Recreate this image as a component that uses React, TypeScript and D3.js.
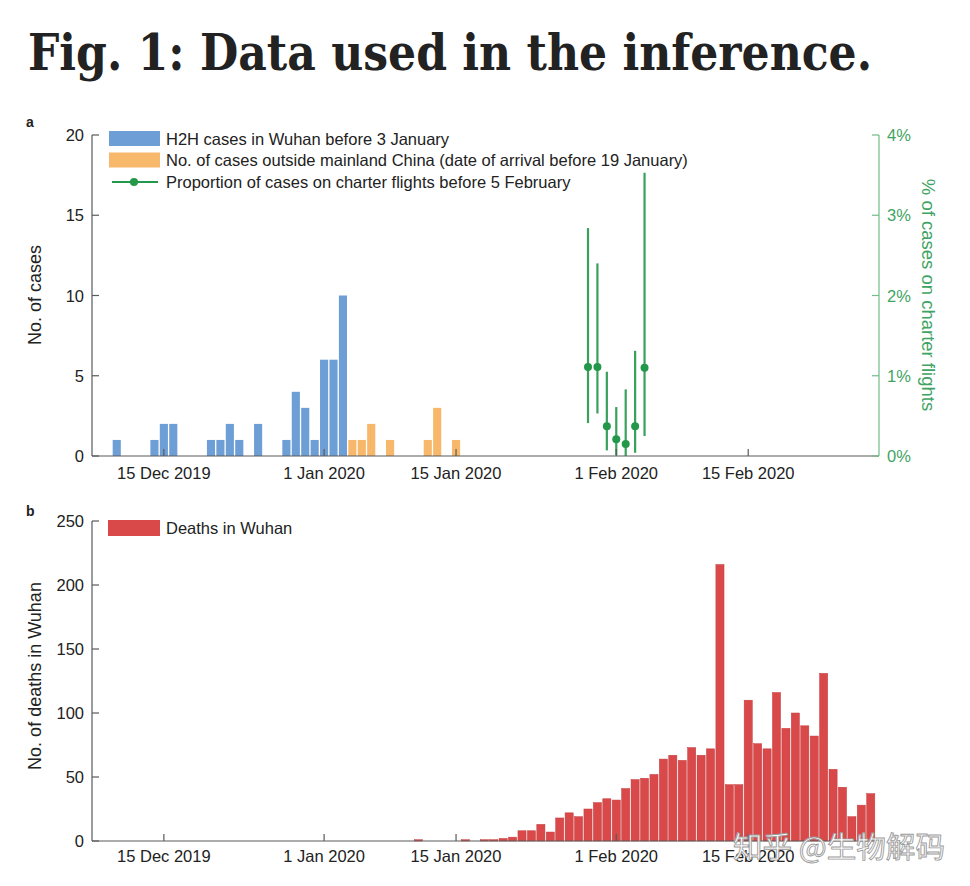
import React from "react";
import * as d3 from "d3";

const h2hDays = ["2019-12-10","2019-12-14","2019-12-15","2019-12-16","2019-12-20","2019-12-21","2019-12-22","2019-12-23","2019-12-25","2019-12-28","2019-12-29","2019-12-30","2019-12-31","2020-01-01","2020-01-02","2020-01-03"];
const h2hCounts = [1,1,2,2,1,1,2,1,2,1,4,3,1,6,6,10];

const outsideDays = ["2020-01-04","2020-01-05","2020-01-06","2020-01-08","2020-01-12","2020-01-13","2020-01-15"];
const outsideCounts = [1,1,2,1,1,3,1];

const charterDays = ["2020-01-29","2020-01-30","2020-01-31","2020-02-01","2020-02-02","2020-02-03","2020-02-04"];
const charterPct = [1.11,1.11,0.37,0.21,0.15,0.37,1.10];
const charterLow = [0.41,0.53,0.07,0.01,0.0,0.04,0.25];
const charterHigh = [2.84,2.40,1.05,0.61,0.83,1.31,3.53];

const deathStart = "2020-01-11";
const deathCounts = [1,0,0,0,0,1,0,1,1,2,3,8,8,13,7,18,22,19,25,30,33,32,41,48,49,52,64,67,63,73,67,72,216,44,44,110,76,72,116,88,100,90,82,131,56,42,19,28,37];

const xTickDates = ["2019-12-15","2020-01-01","2020-01-15","2020-02-01","2020-02-15"];
const xTickLabels = ["15 Dec 2019","1 Jan 2020","15 Jan 2020","1 Feb 2020","15 Feb 2020"];
const yTicksA = [0,5,10,15,20];
const yTicksPct = [0,1,2,3,4];
const yTicksB = [0,50,100,150,200,250];

const parse = (s: string) => {
  const [y, m, d] = s.split("-").map(Number);
  return new Date(y, m - 1, d);
};

const FONT = "'Liberation Sans', Arial, Helvetica, sans-serif";
const BLUE = "#6d9fd6";
const ORANGE = "#f8b86b";
const GREEN = "#23974a";
const GREEN_AX = "#6fbd88";
const GREEN_TXT = "#3fa463";
const RED = "#d9494a";
const AXIS = "#5a5a5a";
const TXT = "#222";

export default function App() {
  const x = d3
    .scaleTime()
    .domain([new Date(2019, 11, 7, 9), new Date(2020, 1, 28, 21)])
    .range([92, 879]);
  const dayW = x(new Date(2020, 0, 2)) - x(new Date(2020, 0, 1));
  const barW = dayW - 1.3;

  const yA = d3.scaleLinear().domain([0, 20]).range([456, 135]);
  const yP = d3.scaleLinear().domain([0, 4]).range([456, 135]);
  const yB = d3.scaleLinear().domain([0, 250]).range([841, 521]);

  const deathDates = deathCounts.map((_, i) => d3.timeDay.offset(parse(deathStart), i));
  const tickLen = 7;

  return (
    <svg
      width={970}
      height={886}
      style={{ position: "absolute", left: 0, top: 0, background: "#fff" }}
      fontFamily={FONT}
    >
      <rect x={0} y={0} width={970} height={886} fill="#fff" />
      <text
        x={28}
        y={70}
        fontFamily="'DejaVu Serif', serif"
        fontWeight="bold"
        fontSize={51}
        fill="#222"
        textLength={844}
        lengthAdjust="spacingAndGlyphs"
      >
        Fig. 1: Data used in the inference.
      </text>

      {/* Panel a */}
      <text x={26} y={127} fontWeight="bold" fontSize={14} fill={TXT}>a</text>
      {h2hDays.map((d, i) => (
        <rect key={"h" + i} x={x(parse(d)) - barW / 2} y={yA(h2hCounts[i])} width={barW} height={yA(0) - yA(h2hCounts[i])} fill={BLUE} />
      ))}
      {outsideDays.map((d, i) => (
        <rect key={"o" + i} x={x(parse(d)) - barW / 2} y={yA(outsideCounts[i])} width={barW} height={yA(0) - yA(outsideCounts[i])} fill={ORANGE} />
      ))}
      {charterDays.map((d, i) => (
        <g key={"c" + i}>
          <line x1={x(parse(d))} x2={x(parse(d))} y1={yP(charterLow[i])} y2={yP(charterHigh[i])} stroke={GREEN} strokeWidth={2.2} opacity={0.9} />
          <circle cx={x(parse(d))} cy={yP(charterPct[i])} r={4} fill={GREEN} />
        </g>
      ))}
      {/* left axis a */}
      <line x1={92} x2={92} y1={135} y2={456} stroke={AXIS} strokeWidth={1.2} />
      {yTicksA.map((t) => (
        <g key={"ya" + t}>
          <line x1={92} x2={92 + tickLen} y1={yA(t)} y2={yA(t)} stroke={AXIS} strokeWidth={1.2} />
          <text x={84} y={yA(t) + 6} textAnchor="end" fontSize={16.5} fill={TXT}>{t}</text>
        </g>
      ))}
      {/* bottom axis a */}
      <line x1={92} x2={879} y1={456} y2={456} stroke={AXIS} strokeWidth={1.2} />
      {xTickDates.map((d, i) => (
        <g key={"xa" + i}>
          <line x1={x(parse(d))} x2={x(parse(d))} y1={456} y2={456 - tickLen} stroke={AXIS} strokeWidth={1.2} />
          <text x={x(parse(d))} y={479} textAnchor="middle" fontSize={16.5} fill={TXT}>{xTickLabels[i]}</text>
        </g>
      ))}
      {/* right axis a */}
      <line x1={879} x2={879} y1={135} y2={456} stroke={GREEN_AX} strokeWidth={1.2} />
      {yTicksPct.map((t) => (
        <g key={"yp" + t}>
          <line x1={879} x2={879 - tickLen} y1={yP(t)} y2={yP(t)} stroke={GREEN_AX} strokeWidth={1.2} />
          <text x={887} y={yP(t) + 6} textAnchor="start" fontSize={16.5} fill={GREEN_TXT}>{t}%</text>
        </g>
      ))}
      <text transform="translate(922,295) rotate(90)" textAnchor="middle" fontSize={18.5} fill={GREEN_TXT}>
        % of cases on charter flights
      </text>
      <text transform="translate(41,295) rotate(-90)" textAnchor="middle" fontSize={18} fill={TXT}>
        No. of cases
      </text>
      {/* legend a */}
      <rect x={109} y={131} width={51} height={15} fill={BLUE} />
      <text x={166} y={144.5} fontSize={16.5} fill={TXT}>H2H cases in Wuhan before 3 January</text>
      <rect x={109} y={152.5} width={51} height={15} fill={ORANGE} />
      <text x={166} y={166} fontSize={16.5} fill={TXT}>No. of cases outside mainland China (date of arrival before 19 January)</text>
      <line x1={112} x2={158} y1={182} y2={182} stroke={GREEN} strokeWidth={2} />
      <circle cx={134} cy={182} r={4} fill={GREEN} />
      <text x={166} y={187.5} fontSize={16.5} fill={TXT}>Proportion of cases on charter flights before 5 February</text>

      {/* Panel b */}
      <text x={26} y={516} fontWeight="bold" fontSize={14} fill={TXT}>b</text>
      {deathDates.map((d, i) =>
        deathCounts[i] > 0 ? (
          <rect key={"d" + i} x={x(d) - barW / 2} y={yB(deathCounts[i])} width={barW} height={yB(0) - yB(deathCounts[i])} fill={RED} stroke="#c43c3c" strokeWidth={0.5} />
        ) : null
      )}
      <line x1={92} x2={92} y1={521} y2={841} stroke={AXIS} strokeWidth={1.2} />
      {yTicksB.map((t) => (
        <g key={"yb" + t}>
          <line x1={92} x2={92 + tickLen} y1={yB(t)} y2={yB(t)} stroke={AXIS} strokeWidth={1.2} />
          <text x={84} y={yB(t) + 6} textAnchor="end" fontSize={16.5} fill={TXT}>{t}</text>
        </g>
      ))}
      <line x1={92} x2={876} y1={841} y2={841} stroke={AXIS} strokeWidth={1.2} />
      {xTickDates.map((d, i) => (
        <g key={"xb" + i}>
          <line x1={x(parse(d))} x2={x(parse(d))} y1={841} y2={841 - tickLen} stroke={AXIS} strokeWidth={1.2} />
          <text x={x(parse(d))} y={862} textAnchor="middle" fontSize={16.5} fill={TXT}>{xTickLabels[i]}</text>
        </g>
      ))}
      <text transform="translate(41,676) rotate(-90)" textAnchor="middle" fontSize={18} fill={TXT}>
        No. of deaths in Wuhan
      </text>
      <rect x={108} y={520} width={52} height={16} fill={RED} />
      <text x={166} y={534} fontSize={16.5} fill={TXT}>Deaths in Wuhan</text>

      {/* watermark */}
      <text
        x={733}
        y={858}
        fontFamily="'Noto Sans CJK SC', sans-serif"
        fontSize={29}
        fill="#fff"
        stroke="#9a9a9a"
        strokeWidth={0.9}
        textLength={212}
        lengthAdjust="spacingAndGlyphs"
      >
        知乎 @生物解码
      </text>
    </svg>
  );
}
